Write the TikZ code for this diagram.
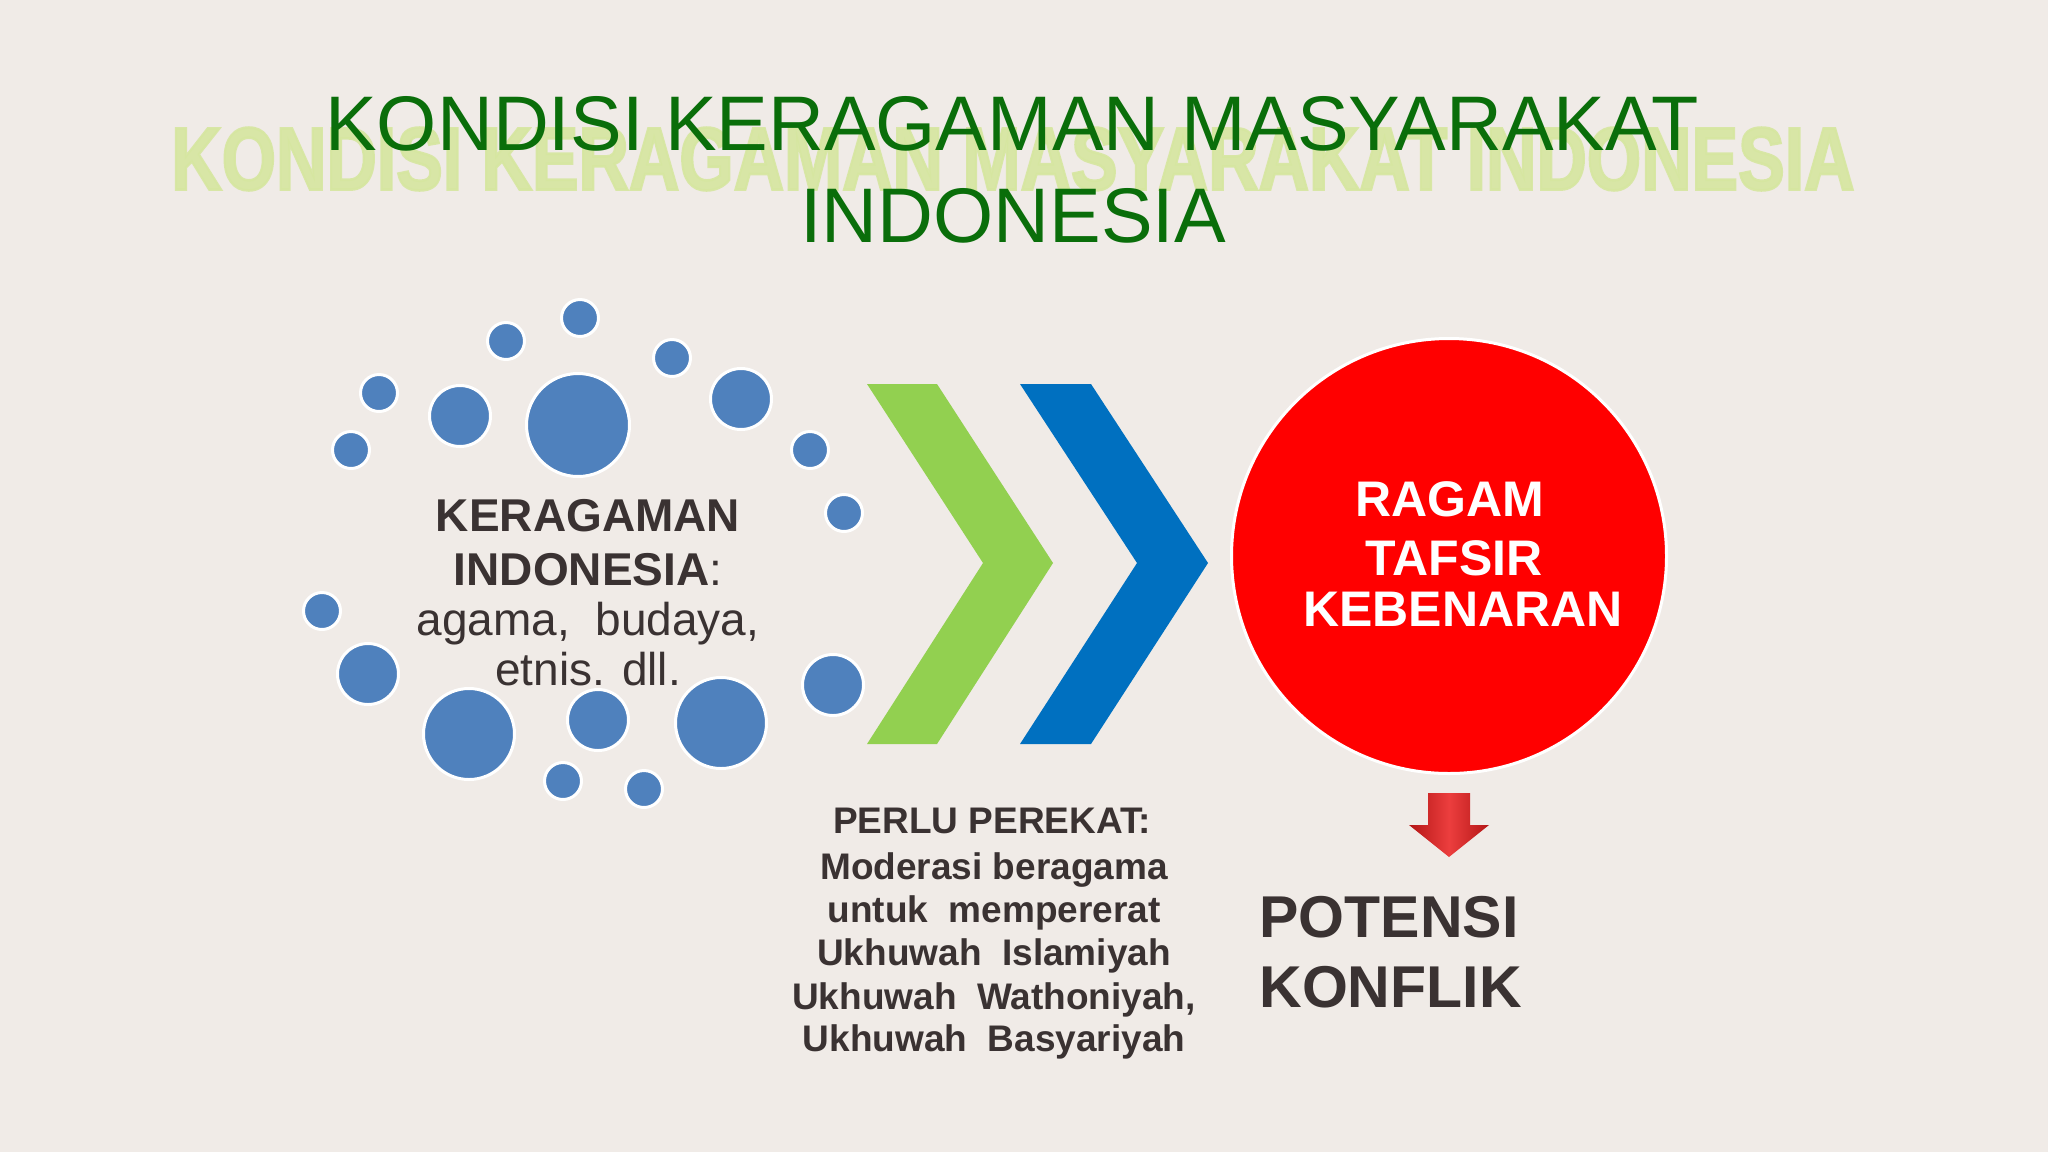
\documentclass[tikz,border=0pt]{standalone}
\usepackage{fontspec}
\setmainfont{Liberation Sans}
\newfontfamily\shadowfont[FakeBold=3]{Liberation Sans Bold}
\definecolor{bg}{RGB}{240,235,231}
\definecolor{titlegreen}{RGB}{10,110,10}
\definecolor{shadowgreen}{RGB}{214,230,160}
\definecolor{dotblue}{RGB}{79,129,189}
\definecolor{chevgreen}{RGB}{146,208,80}
\definecolor{chevblue}{RGB}{0,112,192}
\definecolor{textdark}{RGB}{58,50,50}
\definecolor{arrowred}{RGB}{236,62,62}
\definecolor{arrowdark}{RGB}{180,22,22}
\begin{document}
\begin{tikzpicture}[x=0.5pt,y=-0.5pt,
  dot/.style={circle, fill=dotblue, draw=white, line width=1.5pt, inner sep=0pt},
  lbl/.style={anchor=base, inner sep=0pt, text=textdark},
  titlefont/.style={font=\fontsize{38.7}{46}\selectfont},
  leftbold/.style={font=\fontsize{23}{27}\selectfont\bfseries},
  leftreg/.style={font=\fontsize{23}{27}\selectfont},
  redtext/.style={anchor=base, inner sep=0pt, text=white, font=\fontsize{25}{30}\selectfont\bfseries},
  perlu/.style={lbl, font=\fontsize{18.5}{22}\selectfont\bfseries},
  potensi/.style={anchor=base west, inner sep=0pt, text=textdark, font=\fontsize{29.5}{35}\selectfont\bfseries}]
\useasboundingbox (0,0) rectangle (2048,1152);
\fill[bg] (0,0) rectangle (2048,1152);

% blurred shadow of the title
\node[inner sep=0pt, text=shadowgreen, opacity=0.9] (shadow) at (1013,159)
  {\resizebox{841.5pt}{31pt}{\shadowfont KONDISI KERAGAMAN MASYARAKAT INDONESIA}};

% title
\node[anchor=base, inner sep=0pt, text=titlegreen, titlefont] (title1) at (1012,150) {KONDISI KERAGAMAN MASYARAKAT};
\node[anchor=base, inner sep=0pt, text=titlegreen, titlefont] (title2) at (1013,242) {INDONESIA};

% dots
\node[dot, minimum size=18.5pt] (d1) at (580,318) {};
\node[dot, minimum size=18.5pt] (d2) at (506,341) {};
\node[dot, minimum size=18.5pt] (d3) at (672,358) {};
\node[dot, minimum size=18.5pt] (d4) at (379,393) {};
\node[dot, minimum size=30.5pt] (d5) at (460,416) {};
\node[dot, minimum size=51.5pt] (d6) at (578,425) {};
\node[dot, minimum size=30.5pt] (d7) at (741,399) {};
\node[dot, minimum size=18.5pt] (d8) at (351,450) {};
\node[dot, minimum size=18.5pt] (d9) at (810,450) {};
\node[dot, minimum size=18.5pt] (d10) at (844,513) {};
\node[dot, minimum size=18.5pt] (d11) at (322,611) {};
\node[dot, minimum size=30.5pt] (d12) at (368,674) {};
\node[dot, minimum size=30.5pt] (d13) at (833,685) {};
\node[dot, minimum size=45.5pt] (d14) at (469,734) {};
\node[dot, minimum size=30.5pt] (d15) at (598,720) {};
\node[dot, minimum size=45.5pt] (d16) at (721,723) {};
\node[dot, minimum size=18.5pt] (d17) at (563,781) {};
\node[dot, minimum size=18.5pt] (d18) at (644,789) {};

% left text
\node[lbl, leftbold] (k1) at (588,531) {KERAGAMAN};
\node[lbl] (k2) at (588,585) {\fontsize{23}{27}\selectfont\textbf{INDONESIA}:};
\node[lbl, leftreg] (k3) at (588,635) {agama,\ \ budaya,};
\node[lbl, leftreg] (k4) at (588,685) {etnis. dll.};

% chevrons
\fill[chevgreen] (867,384) -- (937,384) -- (1053,563) -- (937,744) -- (867,744) -- (983,563) -- cycle;
\fill[chevblue] (1020,384) -- (1091,384) -- (1208,563) -- (1091,744) -- (1020,744) -- (1137,563) -- cycle;

% red circle
\node[circle, fill=red, draw=white, line width=1.5pt, inner sep=0pt, minimum size=217.5pt] (ragam) at (1449,556) {};
\node[redtext] (r1) at (1450,516) {RAGAM};
\node[redtext] (r2) at (1454,575) {TAFSIR};
\node[redtext] (r3) at (1463,626) {KEBENARAN};

% down arrow
\shade[left color=arrowdark, right color=arrowdark, middle color=arrowred]
  (1428,793) -- (1470,793) -- (1470,825) -- (1489,825) -- (1449,857) -- (1409,825) -- (1428,825) -- cycle;

% potensi konflik
\node[potensi] (p1) at (1259,937) {POTENSI};
\node[potensi] (p2) at (1259,1007) {KONFLIK};

% perlu perekat
\node[perlu] (q1) at (992,833) {PERLU PEREKAT:};
\node[perlu] (q2) at (994,879) {Moderasi beragama};
\node[perlu] (q3) at (994,922) {untuk\ \ mempererat};
\node[perlu] (q4) at (994,965) {Ukhuwah\ \ Islamiyah};
\node[perlu] (q5) at (994,1009) {Ukhuwah\ \ Wathoniyah,};
\node[perlu] (q6) at (994,1051) {Ukhuwah\ \ Basyariyah};
\end{tikzpicture}
\end{document}
